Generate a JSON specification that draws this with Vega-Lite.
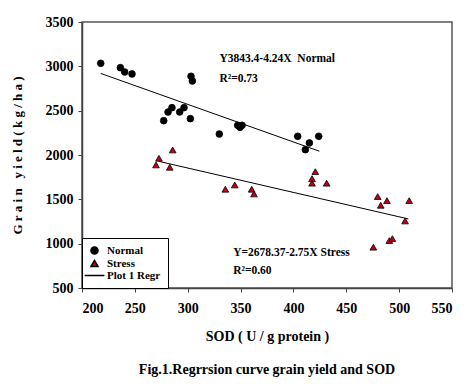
{
  "$schema": "https://vega.github.io/schema/vega-lite/v6.json",
  "width": 370,
  "height": 266,
  "autosize": {"type": "none"},
  "padding": {"left": 82, "top": 22, "right": 22, "bottom": 103},
  "background": "white",
  "config": {
    "font": "Liberation Serif",
    "view": {"stroke": "#555555", "strokeWidth": 1.5},
    "axis": {
      "grid": false,
      "domainColor": "#444444",
      "domainWidth": 1.5,
      "tickColor": "#444444",
      "tickSize": 4,
      "labelFont": "Liberation Serif",
      "labelFontWeight": "bold",
      "labelFontSize": 14,
      "labelColor": "black",
      "titleFont": "Liberation Serif",
      "titleFontWeight": "bold",
      "titleFontSize": 14,
      "titleColor": "black"
    }
  },
  "title": {
    "text": "Fig.1.Regrrsion curve grain yield and SOD",
    "orient": "bottom",
    "anchor": "middle",
    "font": "Liberation Serif",
    "fontWeight": "bold",
    "fontSize": 14,
    "color": "black",
    "offset": 20
  },
  "datasets": {
    "pts": [
      {"series": "Normal", "sod": 217.7, "yield": 3034},
      {"series": "Normal", "sod": 236.3, "yield": 2985},
      {"series": "Normal", "sod": 240.4, "yield": 2936},
      {"series": "Normal", "sod": 247.3, "yield": 2914},
      {"series": "Normal", "sod": 303.1, "yield": 2888},
      {"series": "Normal", "sod": 304.4, "yield": 2835},
      {"series": "Normal", "sod": 277.3, "yield": 2387},
      {"series": "Normal", "sod": 281.4, "yield": 2485},
      {"series": "Normal", "sod": 285.1, "yield": 2534},
      {"series": "Normal", "sod": 292.4, "yield": 2485},
      {"series": "Normal", "sod": 296.5, "yield": 2534},
      {"series": "Normal", "sod": 302.5, "yield": 2410},
      {"series": "Normal", "sod": 329.9, "yield": 2237},
      {"series": "Normal", "sod": 347.3, "yield": 2335},
      {"series": "Normal", "sod": 349.5, "yield": 2312},
      {"series": "Normal", "sod": 351.4, "yield": 2335},
      {"series": "Normal", "sod": 404.0, "yield": 2211},
      {"series": "Normal", "sod": 411.3, "yield": 2060},
      {"series": "Normal", "sod": 415.1, "yield": 2136},
      {"series": "Normal", "sod": 423.9, "yield": 2211},
      {"series": "Stress", "sod": 270.0, "yield": 1888},
      {"series": "Stress", "sod": 272.8, "yield": 1963},
      {"series": "Stress", "sod": 283.0, "yield": 1862},
      {"series": "Stress", "sod": 285.8, "yield": 2057},
      {"series": "Stress", "sod": 335.6, "yield": 1614},
      {"series": "Stress", "sod": 344.5, "yield": 1662},
      {"series": "Stress", "sod": 360.5, "yield": 1614},
      {"series": "Stress", "sod": 362.7, "yield": 1561},
      {"series": "Stress", "sod": 417.6, "yield": 1733},
      {"series": "Stress", "sod": 417.6, "yield": 1682},
      {"series": "Stress", "sod": 420.7, "yield": 1812},
      {"series": "Stress", "sod": 431.4, "yield": 1682},
      {"series": "Stress", "sod": 475.6, "yield": 960},
      {"series": "Stress", "sod": 479.7, "yield": 1531},
      {"series": "Stress", "sod": 482.6, "yield": 1433},
      {"series": "Stress", "sod": 488.5, "yield": 1485},
      {"series": "Stress", "sod": 490.7, "yield": 1035},
      {"series": "Stress", "sod": 493.6, "yield": 1057},
      {"series": "Stress", "sod": 505.6, "yield": 1256},
      {"series": "Stress", "sod": 509.5, "yield": 1485}
    ],
    "fits": [
      {"series": "Normal", "sod": 217.7, "yield": 2920},
      {"series": "Normal", "sod": 424.5, "yield": 2043},
      {"series": "Stress", "sod": 272.8, "yield": 1928},
      {"series": "Stress", "sod": 508.7, "yield": 1279}
    ],
    "notes": [
      {"sod": 330, "yield": 3083, "label": "Y3843.4-4.24X\u00a0\u00a0Normal"},
      {"sod": 330, "yield": 2860, "label": "R²=0.73"},
      {"sod": 343, "yield": 892, "label": "Y=2678.37-2.75X Stress"},
      {"sod": 343, "yield": 693, "label": "R²=0.60"}
    ]
  },
  "layer": [
    {
      "data": {"name": "fits"},
      "mark": {"type": "line", "color": "black", "strokeWidth": 1},
      "encoding": {
        "x": {"field": "sod", "type": "quantitative", "scale": {"domain": [200, 550], "nice": false},
              "axis": {"values": [200, 250, 300, 350, 400, 450, 500, 550], "format": "d", "title": "SOD ( U / g protein )", "labelPadding": 9, "titlePadding": 14}},
        "y": {"field": "yield", "type": "quantitative", "scale": {"domain": [500, 3500], "nice": false},
              "axis": {"values": [500, 1000, 1500, 2000, 2500, 3000, 3500], "format": "d", "title": "G\u00a0r\u00a0a\u00a0i\u00a0n\u00a0\u00a0\u00a0y\u00a0i\u00a0e\u00a0l\u00a0d\u00a0(\u00a0k\u00a0g\u00a0/\u00a0h\u00a0a\u00a0)", "titleFontSize": 13, "labelPadding": 5, "titlePadding": 21}},
        "detail": {"field": "series"}
      }
    },
    {
      "data": {"name": "pts"},
      "mark": {"type": "point", "filled": true, "stroke": "black", "strokeWidth": 0.8, "size": 45, "opacity": 1},
      "encoding": {
        "x": {"field": "sod", "type": "quantitative"},
        "y": {"field": "yield", "type": "quantitative"},
        "shape": {"field": "series", "type": "nominal",
                  "scale": {"domain": ["Normal", "Stress", "Plot 1 Regr"], "range": ["circle", "triangle-up", "M-2.8,0H2.8"]},
                  "legend": {"title": null, "orient": "none", "legendX": 0, "legendY": 216,
                             "fillColor": "white", "strokeColor": "black", "padding": 7,
                             "symbolSize": 50,
                             "labelFont": "Liberation Serif", "labelFontWeight": "bold", "labelFontSize": 11,
                             "labelColor": "black", "labelOffset": 7, "rowPadding": -1,
                             "encode": {"symbols": {"update": {
                               "fill": {"signal": "datum.value === 'Stress' ? '#c00018' : datum.value === 'Normal' ? 'black' : 'transparent'"},
                               "stroke": {"value": "black"},
                               "strokeWidth": {"value": 1},
                               "opacity": {"value": 1}
                             }}}}},
        "fill": {"field": "series", "type": "nominal",
                 "scale": {"domain": ["Normal", "Stress", "Plot 1 Regr"], "range": ["black", "#c00018", "black"]},
                 "legend": null}
      }
    },
    {
      "data": {"name": "notes"},
      "mark": {"type": "text", "align": "left", "baseline": "middle", "font": "Liberation Serif", "fontWeight": "bold", "fontSize": 11.5, "color": "black"},
      "encoding": {
        "x": {"field": "sod", "type": "quantitative"},
        "y": {"field": "yield", "type": "quantitative"},
        "text": {"field": "label"}
      }
    }
  ]
}
